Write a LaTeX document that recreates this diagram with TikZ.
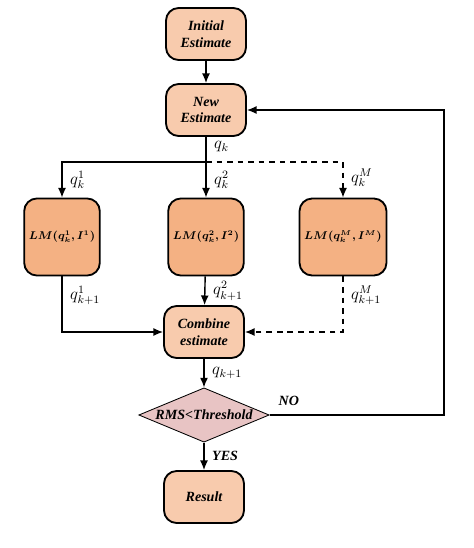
\documentclass[tikz,border=0pt]{standalone}
\usepackage{fontspec}
\setmainfont{Liberation Serif}
\usepackage{amsmath}
\usepackage{bm}
\usetikzlibrary{arrows.meta,shapes.geometric}

\definecolor{boxfill}{HTML}{F8CBAD}
\definecolor{lmfill}{HTML}{F4B183}
\definecolor{decfill}{HTML}{E8C4C4}

\begin{document}
\begin{tikzpicture}[x=0.025cm,y=-0.025cm,
  stepbox/.style={draw,line width=1.3pt,rounded corners=9pt,fill=boxfill,
    minimum width=2cm,minimum height=1.3cm,align=center,font=\bfseries\itshape},
  lmbox/.style={stepbox,fill=lmfill,minimum width=1.875cm,minimum height=1.925cm,
    font=\fontsize{7.8pt}{9pt}\selectfont},
  check/.style={draw,diamond,line width=0.6pt,fill=decfill,aspect=2.4,inner sep=1pt,
    minimum width=3.25cm,minimum height=1.35cm,font=\bfseries\itshape},
  flow/.style={line width=1pt,-{Latex[length=2.4mm,width=2mm]}},
  gap/.style={dash pattern=on 4pt off 3.5pt},
  qlabel/.style={right=2pt,font=\large}]
\useasboundingbox (0,0) rectangle (474,548);

% boxes of the main column
\node[stepbox] (init) at (206,34) {Initial\\Estimate};
\node[stepbox] (new) at (206,110) {New\\Estimate};
\node[stepbox] (comb) at (204,332) {Combine\\estimate};
\node[check] (rms) at (204,415) {RMS<Threshold};
\node[stepbox] (res) at (204,497) {Result};

% the M local estimators
\node[lmbox] (lm1) at (62,237) {$\bm{LM(q_k^1,I^1)}$};
\node[lmbox] (lm2) at (206,237) {$\bm{LM(q_k^2,I^2)}$};
\node[lmbox] (lmM) at (343,237) {$\bm{LM(q_k^M,I^M)}$};

\coordinate (split) at (206,162);
\coordinate (back) at (444,415);

\draw[flow] (init) -- (new);
\draw[line width=1pt] (new) -- node[qlabel,pos=0.4] {$q_k$} (split);
\draw[flow] (split) -| node[qlabel,pos=0.75] {$q_k^1$} (lm1.north);
\draw[flow] (split) -- node[qlabel] {$q_k^2$} (lm2);
\draw[flow,gap] (split) -| node[qlabel,pos=0.72] {$q_k^M$} (lmM.north);

\draw[flow] (lm1.south) |- node[qlabel,pos=0.17] {$q_{k+1}^1$} (comb.west);
\draw[flow] (lm2) -- node[qlabel] {$q_{k+1}^2$} (comb);
\draw[flow,gap] (lmM.south) |- node[qlabel,pos=0.17] {$q_{k+1}^M$} (comb.east);

\draw[flow] (comb) -- node[qlabel] {$q_{k+1}$} (rms);
\draw[flow] (rms) -- node[right=2pt,font=\bfseries\itshape] {YES} (res);
\draw[flow] (rms.east) -- node[pos=0.11,above=3pt,font=\bfseries\itshape] {NO} (back) |- (new.east);
\end{tikzpicture}
\end{document}
